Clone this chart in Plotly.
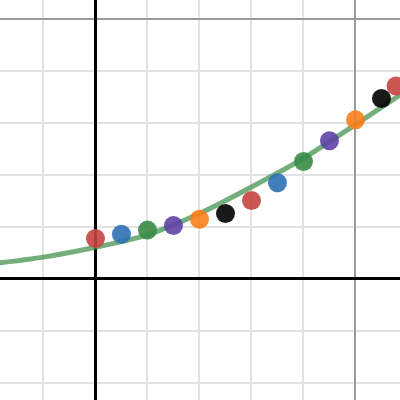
import plotly.graph_objects as go

# points (graph units)
point_x = [0, 0.5, 1, 1.5, 2, 2.5, 3, 3.5, 4, 4.5, 5, 5.5, 5.78]
point_y = [0.78, 0.86, 0.94, 1.03, 1.15, 1.26, 1.51, 1.85, 2.26, 2.66, 3.06, 3.47, 3.71]
point_colors = ["#c74440", "#2d70b3", "#388c46", "#6042a6", "#fa7e19", "#000000",
                "#c74440", "#2d70b3", "#388c46", "#6042a6", "#fa7e19", "#000000",
                "#c74440"]

# the green curve, sampled by eye
curve_x = [-1.84, -1, 0, 1, 2, 3, 4, 5, 5.86]
curve_y = [0.31, 0.42, 0.61, 0.85, 1.26, 1.77, 2.32, 2.97, 3.54]

fig = go.Figure()

fig.add_trace(go.Scatter(
    x=curve_x, y=curve_y,
    mode="lines",
    line=dict(color="#388c46", width=5, shape="spline", smoothing=0.8),
    opacity=0.7,
    hoverinfo="skip",
    showlegend=False,
))

fig.add_trace(go.Scatter(
    x=point_x, y=point_y,
    mode="markers",
    marker=dict(size=19, color=point_colors, opacity=0.9, line=dict(width=0)),
    cliponaxis=True,
    showlegend=False,
))

axis_style = dict(
    showticklabels=False,
    ticks="",
    dtick=5,
    tick0=0,
    showgrid=True,
    gridcolor="#9a9a9a",
    gridwidth=2,
    minor=dict(dtick=1, tick0=0, showgrid=True, gridcolor="#e2e2e2", gridwidth=2),
    zeroline=True,
    zerolinecolor="#000000",
    zerolinewidth=3,
    showline=False,
    fixedrange=True,
)

fig.update_layout(
    width=400,
    height=400,
    margin=dict(l=0, r=0, t=0, b=0),
    paper_bgcolor="white",
    plot_bgcolor="white",
    xaxis=dict(range=[-1.836, 5.856], **axis_style),
    yaxis=dict(range=[-2.327, 5.365], **axis_style),
)

# page body has an 8px margin by default; drop it so the plot fills the window
fig.write_html("out.html", config={"displayModeBar": False},
               post_script="document.body.style.margin='0';")
